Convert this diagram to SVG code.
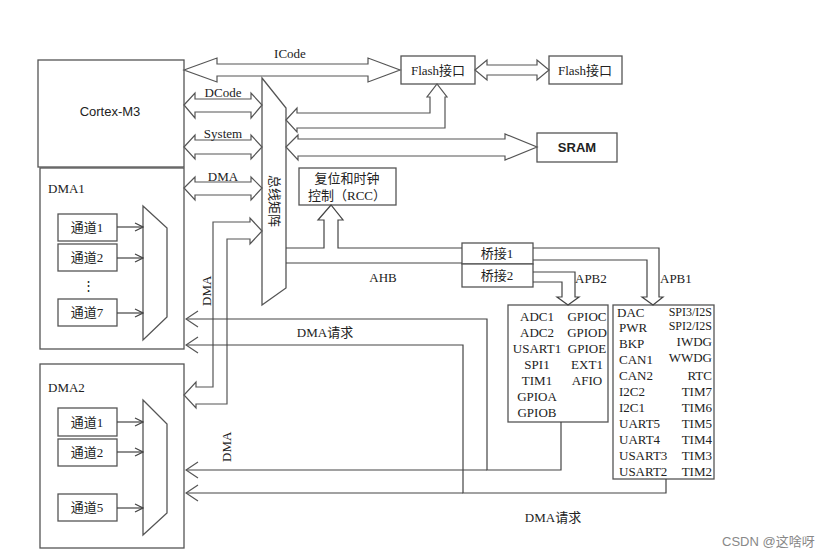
<svg xmlns="http://www.w3.org/2000/svg" width="840" height="560" viewBox="0 0 840 560">
<defs>
<style>
.b{fill:#fff;stroke:#555;stroke-width:1.3}
.l{fill:none;stroke:#444;stroke-width:1.2}
.h{fill:#fff;stroke:#555;stroke-width:1.2}
.t{font-family:"Liberation Serif","Noto Sans CJK SC",serif;font-size:13px;fill:#222}
.s{font-family:"Liberation Sans","Noto Sans CJK SC",sans-serif;font-size:13px;fill:#222}
</style>
<marker id="ah" markerWidth="10" markerHeight="10" refX="9" refY="5" orient="auto" markerUnits="userSpaceOnUse"><path d="M1,1 L9,5 L1,9" fill="none" stroke="#444" stroke-width="1.2"/></marker>
<marker id="oh" markerWidth="14" markerHeight="20" refX="13" refY="10" orient="auto" markerUnits="userSpaceOnUse"><path d="M1,2 L13,10 L1,18" fill="none" stroke="#555" stroke-width="1.2"/></marker>
</defs>
<rect width="840" height="560" fill="#fff"/>

<g id="cortex"><rect class="b" x="38" y="60" width="146" height="107"/><text class="s" x="110" y="116" text-anchor="middle">Cortex-M3</text></g>

<g id="dma1"><rect class="b" x="40" y="168" width="144" height="181"/><text class="t" x="48" y="193">DMA1</text>
<rect class="b" x="58" y="214" width="59" height="27"/><text class="t" x="87" y="232" text-anchor="middle">通道1</text>
<rect class="b" x="58" y="244" width="59" height="27"/><text class="t" x="87" y="262" text-anchor="middle">通道2</text>
<text class="t" x="88" y="290" text-anchor="middle">⋮</text>
<rect class="b" x="58" y="299" width="59" height="27"/><text class="t" x="87" y="317" text-anchor="middle">通道7</text>
<path class="b" d="M143,206 L167,228 L167,317 L143,340 Z"/>
<line class="l" x1="117" y1="227" x2="143" y2="227" marker-end="url(#ah)"/><line class="l" x1="117" y1="258" x2="143" y2="258" marker-end="url(#ah)"/><line class="l" x1="117" y1="313" x2="143" y2="313" marker-end="url(#ah)"/>
</g>

<g id="dma2"><rect class="b" x="40" y="364" width="144" height="184"/><text class="t" x="48" y="392">DMA2</text>
<rect class="b" x="58" y="408" width="59" height="28"/><text class="t" x="87" y="427" text-anchor="middle">通道1</text>
<rect class="b" x="58" y="439" width="59" height="27"/><text class="t" x="87" y="457" text-anchor="middle">通道2</text>
<rect class="b" x="58" y="494" width="59" height="27"/><text class="t" x="87" y="512" text-anchor="middle">通道5</text>
<path class="b" d="M143,400 L167,424 L167,513 L143,535 Z"/>
<line class="l" x1="117" y1="422" x2="143" y2="422" marker-end="url(#ah)"/><line class="l" x1="117" y1="452" x2="143" y2="452" marker-end="url(#ah)"/><line class="l" x1="117" y1="508" x2="143" y2="508" marker-end="url(#ah)"/>
</g>

<g id="matrix"><path class="b" d="M262,78 L286,108 L286,288 L262,305 Z"/><text class="t" x="0" y="0" transform="translate(270,175) rotate(90)" font-size="12">总线矩阵</text></g>

<g id="flash1"><rect class="b" x="401" y="56" width="74" height="28"/><text class="t" x="438" y="75" text-anchor="middle">Flash接口</text></g>
<g id="flash2"><rect class="b" x="549" y="56" width="73" height="28"/><text class="t" x="585" y="75" text-anchor="middle">Flash接口</text></g>
<g id="sram"><rect class="b" x="537" y="133" width="80" height="29"/><text class="s" x="577" y="152" text-anchor="middle" font-weight="bold">SRAM</text></g>
<g id="rcc"><rect class="b" x="299" y="168" width="97" height="37"/><text class="t" x="347" y="183" text-anchor="middle">复位和时钟</text><text class="t" x="347" y="200" text-anchor="middle">控制（RCC）</text></g>
<g id="bridge1"><rect class="b" x="462" y="243" width="71" height="21"/><text class="t" x="497" y="258" text-anchor="middle">桥接1</text></g>
<g id="bridge2"><rect class="b" x="462" y="264" width="71" height="23"/><text class="t" x="497" y="280" text-anchor="middle">桥接2</text></g>

<g id="apb2box"><rect class="b" x="508" y="305" width="100" height="117"/>
<g class="t" text-anchor="middle"><text x="537" y="321">ADC1</text><text x="537" y="337">ADC2</text><text x="537" y="353">USART1</text><text x="537" y="369">SPI1</text><text x="537" y="385">TIM1</text><text x="537" y="401">GPIOA</text><text x="537" y="417">GPIOB</text>
<text x="587" y="321">GPIOC</text><text x="587" y="337">GPIOD</text><text x="587" y="353">GPIOE</text><text x="587" y="369">EXT1</text><text x="587" y="385">AFIO</text></g></g>

<g id="apb1box"><rect class="b" x="613" y="305" width="101" height="174"/>
<g class="t"><text x="617" y="317">DAC</text><text x="619" y="332">PWR</text><text x="619" y="348">BKP</text><text x="619" y="364">CAN1</text><text x="619" y="380">CAN2</text><text x="619" y="396">I2C2</text><text x="619" y="412">I2C1</text><text x="619" y="428">UART5</text><text x="619" y="444">UART4</text><text x="619" y="460">USART3</text><text x="619" y="476">USART2</text></g>
<g class="t" text-anchor="end"><text x="712" y="316" font-size="12">SPI3/I2S</text><text x="712" y="330" font-size="12">SPI2/I2S</text><text x="712" y="346">IWDG</text><text x="712" y="362">WWDG</text><text x="712" y="380">RTC</text><text x="712" y="396">TIM7</text><text x="712" y="412">TIM6</text><text x="712" y="428">TIM5</text><text x="712" y="444">TIM4</text><text x="712" y="460">TIM3</text><text x="712" y="476">TIM2</text></g></g>

<g id="connectors">
<path class="h" d="M184,70 L217,58 L217,64 L368,64 L368,58 L400,70 L368,82 L368,76 L217,76 L217,82 Z"/>
<path class="h" d="M475,70 L487,60 L487,65 L537,65 L537,60 L549,70 L537,80 L537,75 L487,75 L487,80 Z"/>
<path class="h" d="M184,105 L195,93 L195,99 L251,99 L251,93 L262,105 L251,118 L251,112 L195,112 L195,118 Z"/>
<path class="h" d="M184,147 L195,135 L195,140 L251,140 L251,135 L262,147 L251,159 L251,154 L195,154 L195,159 Z"/>
<path class="h" d="M184,188 L195,177 L195,182 L251,182 L251,177 L262,188 L251,200 L251,195 L195,195 L195,200 Z"/>
<path class="h" d="M286,120 L297,108 L297,113 L430,113 L430,97 L427,97 L437,84 L447,97 L445,97 L445,128 L297,128 L297,132 Z"/>
<path class="h" d="M286,147 L298,135 L298,139 L505,139 L505,134 L537,147 L505,160 L505,156 L298,156 L298,160 Z"/>
<path class="h" d="M262,231 L250,218 L250,222 L213,222 L213,387 L196,387 L196,382 L184,395 L196,408 L196,404 L227,404 L227,239 L250,239 L250,244 Z"/>
<path class="l" d="M286,248 L324,248 L324,220 L318,220 L331,205 L343,220 L338,220 L338,248 L462,248"/>
<line class="l" x1="286" y1="263" x2="462" y2="263"/>
<path class="l" d="M533,272 L575,272 L575,297 L579,297 L568,305 L557,297 L562,297 L562,282 L533,282"/>
<path class="l" d="M533,248 L659,248 L659,297 L663,297 L653,305 L642,297 L647,297 L647,260 L533,260"/>
<path class="l" d="M561,422 L561,470 L487,470 L487,319 L186,319" marker-end="url(#oh)"/>
<line class="l" x1="487" y1="470" x2="186" y2="470" marker-end="url(#oh)"/>
<path class="l" d="M666,479 L666,493 L463,493 L463,345 L186,345" marker-end="url(#oh)"/>
<line class="l" x1="463" y1="493" x2="186" y2="493" marker-end="url(#oh)"/>
</g>

<g id="labels" class="t">
<text x="290" y="58" text-anchor="middle">ICode</text>
<text x="223" y="97" text-anchor="middle">DCode</text>
<text x="223" y="138" text-anchor="middle">System</text>
<text x="223" y="181" text-anchor="middle">DMA</text>
<text x="383" y="282" text-anchor="middle">AHB</text>
<text x="575" y="283">APB2</text>
<text x="660" y="283">APB1</text>
<text x="325" y="337" text-anchor="middle">DMA请求</text>
<text x="553" y="522" text-anchor="middle">DMA请求</text>
<text transform="translate(211,306) rotate(-90)">DMA</text>
<text transform="translate(231,462) rotate(-90)">DMA</text>
</g>
<text x="722" y="546" font-family="'Liberation Sans','Noto Sans CJK SC',sans-serif" font-size="13" fill="#888">CSDN @这啥呀</text>
</svg>
